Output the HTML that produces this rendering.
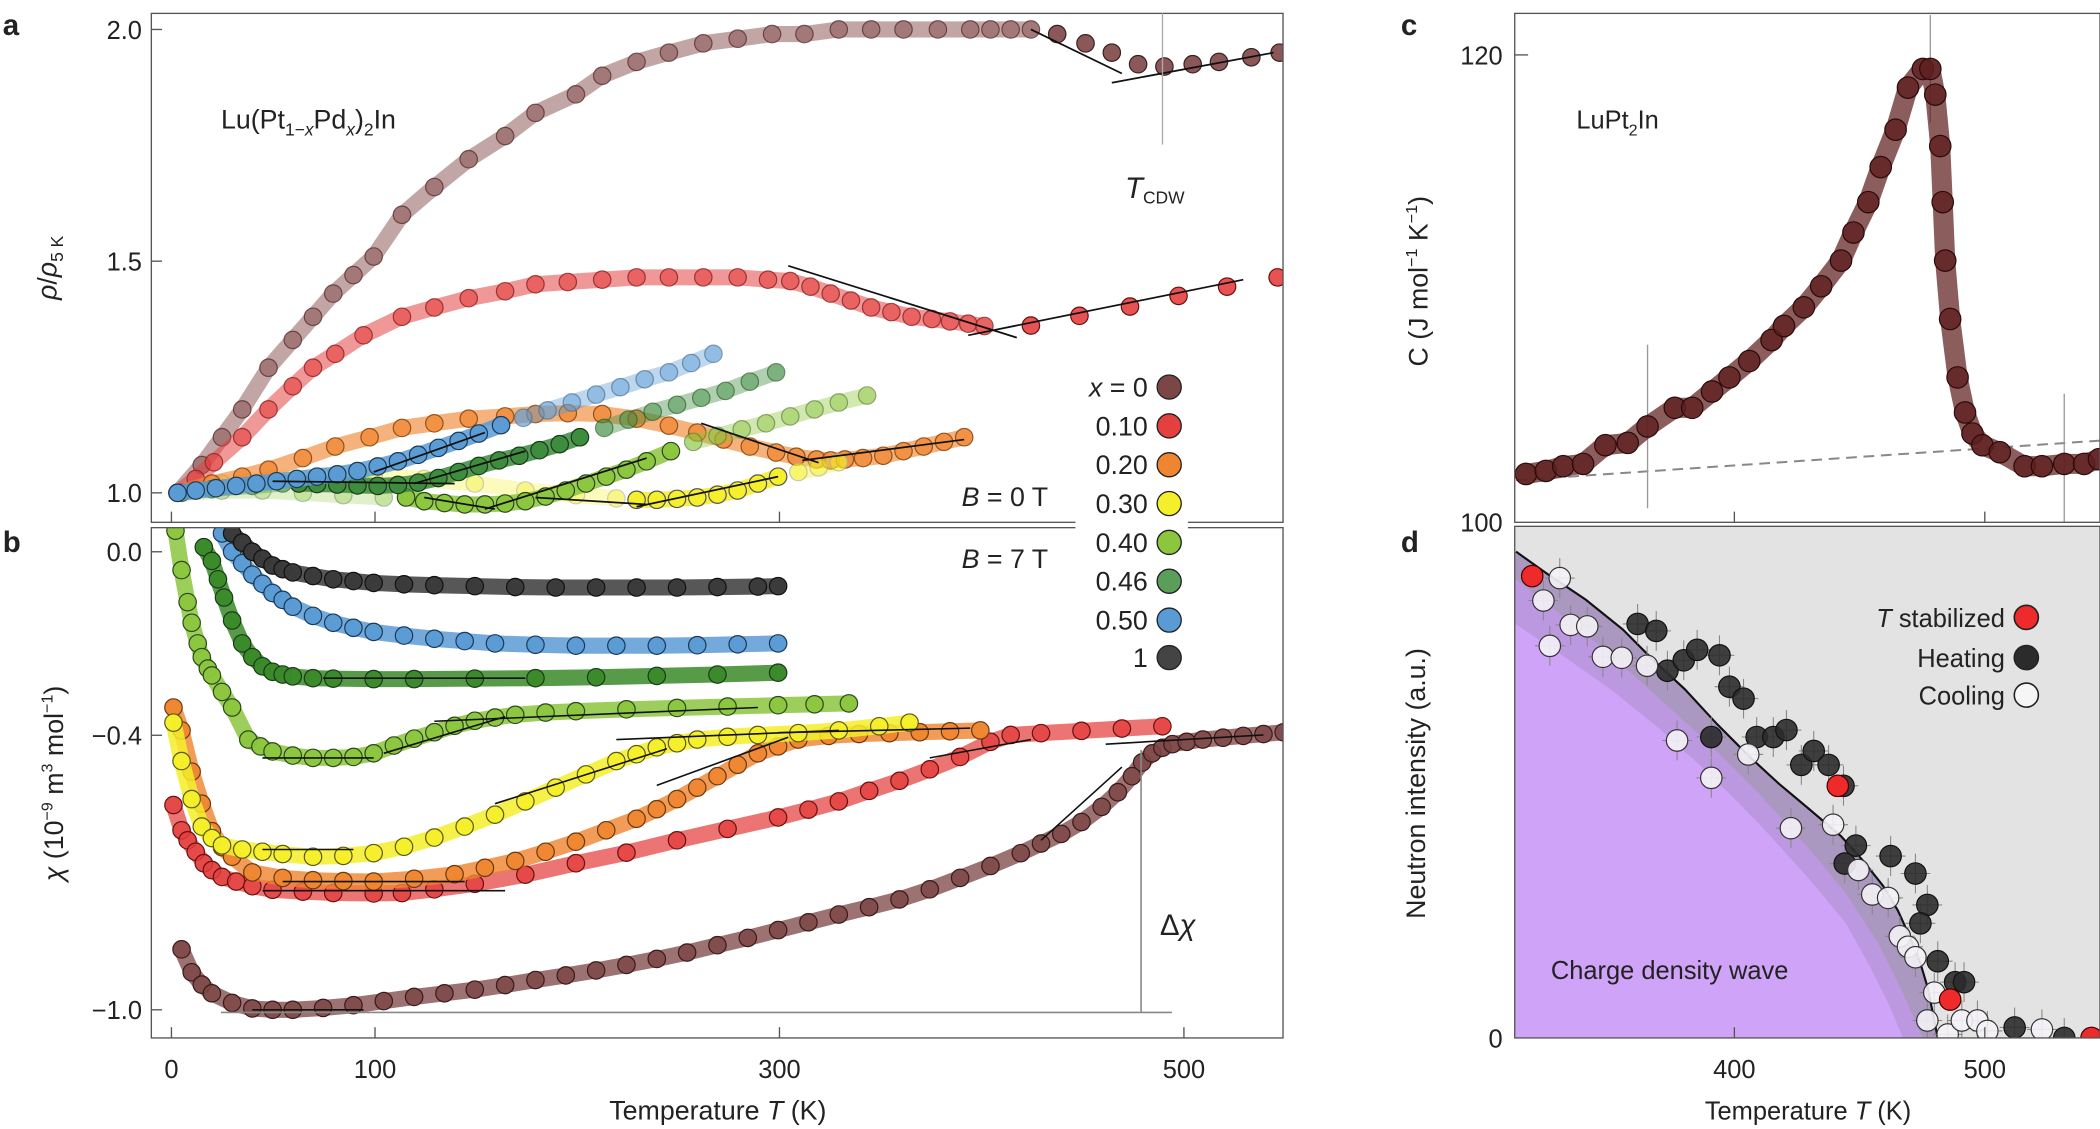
<!DOCTYPE html>
<html><head><meta charset="utf-8"><style>
html,body{margin:0;padding:0;background:#fff;}
svg{display:block;}
text{font-family:"Liberation Sans Narrow","Liberation Sans",sans-serif;fill:#222;}
</style></head><body>
<svg id="fig" width="2100" height="1129" viewBox="0 0 1568 843" xmlns="http://www.w3.org/2000/svg">
<defs><clipPath id="clipA"><rect x="113" y="10" width="845" height="380"/></clipPath>
<clipPath id="clipB"><rect x="113" y="394" width="845" height="381"/></clipPath>
<clipPath id="clipC"><rect x="1131" y="10" width="437" height="380"/></clipPath>
<clipPath id="clipD"><rect x="1131" y="393" width="437" height="382"/></clipPath></defs>
<rect x="1131" y="393" width="437" height="382" fill="#e3e3e3"/>
<g id="dBands" clip-path="url(#clipD)"></g>
<g id="gA" clip-path="url(#clipA)"></g>
<g id="gB" clip-path="url(#clipB)"></g>
<g id="gC" clip-path="url(#clipC)"></g>
<g id="gD" clip-path="url(#clipD)"></g>
<g fill="none" stroke="#555" stroke-width="1">
<rect x="113" y="10" width="845" height="380"/><rect x="113" y="394" width="845" height="381"/>
<rect x="1131" y="10" width="437" height="380"/><rect x="1131" y="393" width="437" height="382"/>
</g>
<g stroke="#555" stroke-width="1">
<line x1="113" y1="22" x2="121" y2="22"/><line x1="113" y1="195" x2="121" y2="195"/><line x1="113" y1="368" x2="121" y2="368"/>
<line x1="113" y1="412" x2="121" y2="412"/><line x1="113" y1="549" x2="121" y2="549"/><line x1="113" y1="754" x2="121" y2="754"/>
<line x1="128" y1="390" x2="128" y2="382"/><line x1="280" y1="390" x2="280" y2="382"/><line x1="582" y1="390" x2="582" y2="382"/>
<line x1="128" y1="775" x2="128" y2="767"/><line x1="280" y1="775" x2="280" y2="767"/><line x1="582" y1="775" x2="582" y2="767"/><line x1="884" y1="775" x2="884" y2="767"/>
<line x1="1131" y1="41" x2="1141" y2="41"/><line x1="1295" y1="390" x2="1295" y2="382"/><line x1="1482" y1="390" x2="1482" y2="382"/>
<line x1="1295" y1="775" x2="1295" y2="767"/><line x1="1482" y1="775" x2="1482" y2="767"/>
</g>
<g font-size="19">
<text x="106" y="29" text-anchor="end">2.0</text><text x="106" y="202" text-anchor="end">1.5</text><text x="106" y="375" text-anchor="end">1.0</text>
<text x="106" y="419" text-anchor="end">0.0</text><text x="106" y="556" text-anchor="end">−0.4</text><text x="106" y="761" text-anchor="end">−1.0</text>
<text x="128" y="805" text-anchor="middle">0</text><text x="280" y="805" text-anchor="middle">100</text><text x="582" y="805" text-anchor="middle">300</text><text x="884" y="805" text-anchor="middle">500</text>
<text x="1122" y="48" text-anchor="end" style="font-family:'Liberation Sans',sans-serif">120</text>
<text x="1122" y="397" text-anchor="end" style="font-family:'Liberation Sans',sans-serif">100</text>
<text x="1122" y="782" text-anchor="end" style="font-family:'Liberation Sans',sans-serif">0</text>
<text x="1295" y="805" text-anchor="middle" style="font-family:'Liberation Sans',sans-serif">400</text>
<text x="1482" y="805" text-anchor="middle" style="font-family:'Liberation Sans',sans-serif">500</text>
</g>
<g font-size="20">
<text x="536" y="836" text-anchor="middle">Temperature <tspan font-style="italic">T</tspan> (K)</text>
<text x="1350" y="836" text-anchor="middle" style="font-family:'Liberation Sans',sans-serif" font-size="19">Temperature <tspan font-style="italic">T</tspan> (K)</text>
<text transform="translate(42,200) rotate(-90)" text-anchor="middle"><tspan font-style="italic">ρ</tspan>/<tspan font-style="italic">ρ</tspan><tspan font-size="13" dy="5">5 K</tspan></text>
<text transform="translate(47,585) rotate(-90)" text-anchor="middle"><tspan font-style="italic">χ</tspan> (10<tspan font-size="12" dy="-8">−9</tspan><tspan dy="8"> m</tspan><tspan font-size="12" dy="-8">3</tspan><tspan dy="8"> mol</tspan><tspan font-size="12" dy="-8">−1</tspan><tspan dy="8">)</tspan></text>
<text transform="translate(1066,210) rotate(-90)" text-anchor="middle">C (J mol<tspan font-size="12" dy="-8">−1</tspan><tspan dy="8"> K</tspan><tspan font-size="12" dy="-8">−1</tspan><tspan dy="8">)</tspan></text>
<text transform="translate(1064,585) rotate(-90)" text-anchor="middle">Neutron intensity (a.u.)</text>
</g>
<g font-size="22" font-weight="bold">
<text x="2" y="26" style="font-family:'Liberation Sans',sans-serif">a</text><text x="2" y="412" style="font-family:'Liberation Sans',sans-serif">b</text>
<text x="1046" y="26" style="font-family:'Liberation Sans',sans-serif">c</text><text x="1046" y="412" style="font-family:'Liberation Sans',sans-serif">d</text>
</g>
<g font-size="20">
<text x="165" y="96">Lu(Pt<tspan font-size="13" dy="5">1−<tspan font-style="italic">x</tspan></tspan><tspan dy="-5">Pd</tspan><tspan font-size="13" dy="5" font-style="italic">x</tspan><tspan dy="-5">)</tspan><tspan font-size="13" dy="5">2</tspan><tspan dy="-5">In</tspan></text>
<line x1="868" y1="10" x2="868" y2="108" stroke="#aaa" stroke-width="1"/>
<text x="840" y="148" font-size="22"><tspan font-style="italic">T</tspan><tspan font-size="13" dy="4">CDW</tspan></text>
<text x="718" y="378" font-size="20"><tspan font-style="italic">B</tspan> = 0 T</text>
<text x="718" y="424" font-size="20"><tspan font-style="italic">B</tspan> = 7 T</text>
<line x1="852" y1="560" x2="852" y2="756" stroke="#888" stroke-width="1.2"/>
<line x1="165" y1="756" x2="875" y2="756" stroke="#888" stroke-width="1.2"/>
<text x="866" y="698" font-size="22">Δ<tspan font-style="italic">χ</tspan></text>
<text x="1177" y="96" style="font-family:'Liberation Sans',sans-serif" font-size="19">LuPt<tspan font-size="12" dy="5">2</tspan><tspan dy="-5">In</tspan></text>
<text x="1158" y="731" style="font-family:'Liberation Sans',sans-serif" font-size="19">Charge density wave</text>
</g>
<g id="legendAB"></g>
<g id="legendD"></g>
</svg>
<script>
// ---------- Panel a data (T in K, rho/rho5K) ----------
const aT0 = [3,15,25,35,48,60,70,80,90,100,114,130,147,165,180,200,213,230,246,263,280,297,313,330,346,362,379,395,405,415,425];
const aV0 = [1.0,1.06,1.12,1.18,1.27,1.33,1.38,1.43,1.47,1.51,1.60,1.66,1.72,1.77,1.82,1.86,1.90,1.93,1.95,1.97,1.98,1.99,1.99,2.0,2.0,2.0,2.0,2.0,2.0,2.0,2.0];
const aT0s = [438,452,465,478,491,505,518,534,548];
const aV0s = [1.99,1.97,1.95,1.925,1.92,1.925,1.93,1.94,1.95];
const aT10 = [3,12,21,35,48,60,70,81,95,114,130,147,165,180,196,213,230,246,263,280,295,306,316,326,336,346,356,366,376,385,394,402];
const aV10 = [1.0,1.03,1.066,1.12,1.18,1.23,1.27,1.30,1.34,1.38,1.40,1.42,1.435,1.45,1.455,1.46,1.465,1.465,1.465,1.465,1.46,1.457,1.445,1.43,1.415,1.40,1.39,1.38,1.375,1.37,1.365,1.36];
const aT10s = [425,449,474,498,522,547];
const aV10s = [1.361,1.382,1.402,1.425,1.445,1.465];
const aT20 = [3,20,35,48,65,81,98,114,130,147,165,180,196,213,230,246,260,273,286,299,309,319,326,333,342,352,362,372,382,392];
const aV20 = [1.0,1.02,1.035,1.05,1.075,1.10,1.12,1.14,1.15,1.16,1.165,1.17,1.172,1.17,1.16,1.145,1.13,1.115,1.10,1.087,1.078,1.072,1.07,1.072,1.075,1.08,1.09,1.10,1.11,1.12];
const aT30f = [5,25,50,75,100,125,150,175,200,220];
const aV30f = [1.0,1.02,1.03,1.035,1.035,1.03,1.02,1.005,0.995,0.988];
const aT30 = [230,240,250,260,270,280,290,300];
const aV30 = [0.985,0.985,0.987,0.99,0.996,1.005,1.02,1.035];
const aT30g = [310,320,330];
const aV30g = [1.045,1.055,1.066];
const aT40f = [5,25,45,65,85,105];
const aV40f = [1.0,1.005,1.005,1.0,0.995,0.99];
const aT40 = [116,125,135,145,155,165,175,185,195,205,215,225,235,247];
const aV40 = [0.99,0.982,0.978,0.975,0.975,0.977,0.982,0.992,1.005,1.02,1.035,1.05,1.068,1.09];
const aT40g = [258,270,282,294,306,318,330,344];
const aV40g = [1.11,1.123,1.137,1.15,1.165,1.18,1.195,1.21];
const aT46f = [5,20,40,55];
const aV46f = [1.0,1.008,1.015,1.02];
const aT46 = [63,72,82,92,102,112,122,132,142,152,162,172,182,192,202];
const aV46 = [1.02,1.019,1.018,1.016,1.015,1.017,1.022,1.032,1.045,1.058,1.07,1.08,1.092,1.105,1.12];
const aT46g = [214,226,238,250,262,274,286,299];
const aV46g = [1.14,1.158,1.175,1.19,1.205,1.22,1.24,1.26];
const aT50 = [3,12,22,32,42,52,62,72,82,92,102,112,122,132,142,152,163];
const aV50 = [1.0,1.005,1.01,1.015,1.02,1.025,1.03,1.035,1.04,1.047,1.057,1.068,1.082,1.097,1.112,1.128,1.146];
const aT50g = [174,186,198,210,222,234,246,257,268];
const aV50g = [1.162,1.178,1.195,1.212,1.228,1.245,1.26,1.28,1.30];
// ---------- Panel b data (T in K, chi) ----------
const bT1 = [30,35,40,45,50,55,60,70,80,90,100,115,130,150,170,190,210,230,250,270,290,300];
const bV1 = [0.04,0.02,0.0,-0.015,-0.03,-0.038,-0.045,-0.053,-0.06,-0.064,-0.068,-0.071,-0.073,-0.075,-0.077,-0.078,-0.078,-0.078,-0.078,-0.077,-0.076,-0.075];
const bT50 = [25,30,35,40,45,50,55,60,70,80,90,100,115,130,145,160,180,200,220,240,260,280,300];
const bV50 = [0.04,0.0,-0.025,-0.05,-0.07,-0.09,-0.105,-0.12,-0.14,-0.155,-0.166,-0.175,-0.183,-0.19,-0.195,-0.2,-0.203,-0.205,-0.205,-0.205,-0.204,-0.202,-0.2];
const bT46 = [16,20,23,26,30,35,40,45,50,55,60,70,80,100,120,150,180,210,240,270,300];
const bV46 = [0.01,-0.02,-0.06,-0.1,-0.15,-0.2,-0.23,-0.25,-0.262,-0.268,-0.272,-0.276,-0.277,-0.278,-0.278,-0.277,-0.276,-0.274,-0.271,-0.268,-0.264];
const bT40 = [2,5,8,10,13,15,18,20,25,30,38,44,50,60,70,80,90,100,110,120,130,140,150,160,170,185,200,225,250,275,300,318,335];
const bV40 = [0.046,-0.04,-0.11,-0.155,-0.2,-0.23,-0.255,-0.27,-0.306,-0.34,-0.41,-0.425,-0.436,-0.445,-0.45,-0.45,-0.448,-0.44,-0.423,-0.408,-0.394,-0.38,-0.369,-0.362,-0.356,-0.351,-0.348,-0.344,-0.341,-0.338,-0.335,-0.333,-0.331];
const bT30 = [1,5,10,15,20,25,35,45,55,70,85,100,115,130,145,160,175,190,205,220,230,240,250,260,275,290,310,330,350,365];
const bV30 = [-0.373,-0.457,-0.54,-0.6,-0.625,-0.641,-0.65,-0.655,-0.66,-0.666,-0.664,-0.658,-0.644,-0.624,-0.6,-0.574,-0.545,-0.515,-0.486,-0.457,-0.442,-0.427,-0.418,-0.41,-0.404,-0.4,-0.396,-0.39,-0.381,-0.373];
const bT20 = [1,5,10,15,20,25,30,40,55,70,85,100,120,140,155,170,185,200,215,230,240,250,260,270,280,290,300,310,325,340,355,370,385,400];
const bV20 = [-0.34,-0.39,-0.48,-0.55,-0.61,-0.645,-0.666,-0.7,-0.712,-0.717,-0.719,-0.72,-0.714,-0.704,-0.69,-0.675,-0.655,-0.633,-0.608,-0.583,-0.562,-0.54,-0.515,-0.49,-0.465,-0.44,-0.425,-0.41,-0.402,-0.398,-0.396,-0.394,-0.392,-0.39];
const bT10 = [1,5,8,12,16,20,25,32,40,50,65,80,100,114,130,150,175,200,225,250,275,300,315,330,345,360,375,390,405,415,430,450,470,490];
const bV10 = [-0.553,-0.608,-0.63,-0.655,-0.68,-0.695,-0.71,-0.72,-0.73,-0.738,-0.742,-0.745,-0.746,-0.745,-0.737,-0.725,-0.705,-0.68,-0.657,-0.63,-0.605,-0.58,-0.563,-0.545,-0.522,-0.5,-0.475,-0.448,-0.415,-0.4,-0.396,-0.391,-0.386,-0.381];
const bT0 = [5,10,15,20,30,40,50,60,75,90,105,120,135,150,165,180,195,210,225,240,255,270,285,300,315,330,345,360,375,390,405,420,430,440,450,460,468,475,480,485,490,495,502,510,520,530,540,550];
const bV0 = [-0.868,-0.918,-0.945,-0.964,-0.985,-0.997,-1.0,-1.0,-0.996,-0.99,-0.981,-0.972,-0.964,-0.956,-0.946,-0.935,-0.925,-0.914,-0.902,-0.889,-0.875,-0.859,-0.843,-0.826,-0.809,-0.792,-0.776,-0.759,-0.737,-0.712,-0.686,-0.658,-0.637,-0.616,-0.59,-0.557,-0.525,-0.49,-0.46,-0.44,-0.428,-0.42,-0.415,-0.41,-0.406,-0.402,-0.398,-0.394];
// ---------- Panel c data (T in K, C) ----------
const cT = [316,324,331,339,348,357,365,376,383,391,398,406,415,420,428,435,443,448,454,459,465,470,476,479,481,483,484,485,487,490,493,496,500,507,517,524,533,541,547];
const cV = [102.07,102.2,102.4,102.5,103.3,103.4,104.1,104.9,104.9,105.6,106.2,106.9,107.8,108.4,109.2,110.1,111.2,112.4,113.7,115.2,116.8,118.6,119.4,119.4,118.3,116.1,113.7,111.2,108.7,106.2,104.7,103.8,103.3,103.0,102.4,102.4,102.5,102.5,102.7];
const cBaseT = [312,548];
const cBaseV = [101.8,103.5];
// ---------- Panel d data (T in K, intensity) ----------
const dHeatT = [361,368.5,373,379.6,385,394,398,403.7,409,415.7,421,427,432,438,444,449,444.5,463,473,477.8,475,482,489,492.6,513,533,390.7];
const dHeatV = [83.1,81.7,73.7,75.8,77.9,76.8,70.5,68.1,60.4,60.4,61.8,54.8,57.6,54.8,50.6,38.6,35,36.5,33,26.7,23,15.4,11.2,11.2,2.1,0,60.4];
const dCoolT = [329.6,323,325.6,334,340.7,347,354.6,364.8,376.9,390.7,405.6,422.8,439.8,450,455.6,462,466.7,470,473,480.6,477.8,486,491.7,498,502,524];
const dCoolV = [92.3,87.8,78.7,82.9,82.6,76.5,76.3,74.7,59.7,52.2,56.9,42.1,42.8,33.7,28.8,28.1,20.4,18.3,16.2,9.1,3.5,0.7,3.5,3.5,1.4,1.7];
const dStabT = [318.5,441.7,487,544];
const dStabV = [92.7,50.6,7.7,0];
const dFitT = [312,325,340,355,367,380,393,406,418,430,443,452,460,466,471,475,478,480,482];
const dFitV = [97.6,93,88,82,76,70,63,56.5,51,46,40.5,35.5,30.5,25.5,20,15,10,5,0];
const dBand2T = [312,330,350,370,390,410,430,445,458,467,476];
const dBand2V = [92,85,77,68,59,49,38,29,19,10,0];
const dBand3T = [312,330,350,370,390,410,430,445,455,462,468];
const dBand3V = [83,77,70,62,53,43,32,23,14,7,0];

function ax(T){return 128+T*1.51;}  function ay(v){return 368-(v-1)*346;}
function bx(T){return 128+T*1.51;}  function by(v){return 412-v*342;}
function cx(T){return 1295+(T-400)*1.852;} function cy(v){return 390-(v-100)*17.45;}
function dx(T){return 1295+(T-400)*1.852;} function dy(v){return 775-v*3.72;}
const NS='http://www.w3.org/2000/svg';
function mk(tag,parent){const e=document.createElementNS(NS,tag);parent.appendChild(e);return e;}

function band(g,Ts,Vs,fx,fy,color,op,w){
  const p=mk('polyline',g);
  
  
  p.setAttribute('points',Ts.map((t,i)=>fx(t)+','+fy(Vs[i])).join(' '));
  p.setAttribute('fill','none');p.setAttribute('stroke',color);p.setAttribute('stroke-opacity',op);
  p.setAttribute('stroke-width',w);p.setAttribute('stroke-linecap','round');p.setAttribute('stroke-linejoin','round');
}
function dots(g,Ts,Vs,fx,fy,fill,stroke,op,r,name){
  for(let i=0;i<Ts.length;i++){
    const c=mk('circle',g);
    
    
    c.setAttribute('cx',fx(Ts[i]));c.setAttribute('cy',fy(Vs[i]));c.setAttribute('r',r);
    c.setAttribute('fill',fill);c.setAttribute('fill-opacity',op);
    c.setAttribute('stroke',stroke);c.setAttribute('stroke-opacity',Math.min(1,op+0.2));c.setAttribute('stroke-width',0.9);
  }
}
function series(g,Ts,Vs,fx,fy,fill,stroke,op,r,name){band(g,Ts,Vs,fx,fy,fill,op*0.9,2*r-1);dots(g,Ts,Vs,fx,fy,fill,stroke,op,r,name);}
function line(g,x1,y1,x2,y2,col,w,dash){const l=mk('line',g);
  
  
  l.setAttribute('x1',x1);l.setAttribute('y1',y1);l.setAttribute('x2',x2);l.setAttribute('y2',y2);l.setAttribute('stroke',col);l.setAttribute('stroke-width',w);if(dash)l.setAttribute('stroke-dasharray',dash);}

const col={x0:'#7d4646',x10:'#e4403f',x20:'#ef8530',x30:'#f4ef2a',x40:'#8cc63f',x46:'#3d8b3d',x50:'#5b9bd5',x1:'#3a3a3a'};
const R=6.5;
const gA=document.getElementById('gA');
series(gA,aT30f,aV30f,ax,ay,col.x30,'#aa9',0.35,R,'series-x030-faded');
series(gA,aT40f,aV40f,ax,ay,col.x40,'#686',0.3,R,'series-x040-faded');
series(gA,aT0,aV0,ax,ay,'#8e5a5a','#5a3030',0.6,R,'series-x0');
dots(gA,aT0s,aV0s,ax,ay,'#7d4646','#3a2020',0.9,R,'series-x0-sparse');
series(gA,aT10,aV10,ax,ay,col.x10,'#8a2020',0.6,R,'series-x010');
dots(gA,aT10s,aV10s,ax,ay,col.x10,'#6a1010',0.9,R,'series-x010-sparse');
series(gA,aT20,aV20,ax,ay,col.x20,'#8a4a10',0.7,R,'series-x020');
series(gA,aT50g,aV50g,ax,ay,col.x50,'#4a6a8a',0.45,R,'series-x050-faded');
series(gA,aT46g,aV46g,ax,ay,col.x46,'#2a5a2a',0.45,R,'series-x046-faded');
series(gA,aT40g,aV40g,ax,ay,col.x40,'#5a7a3a',0.45,R,'series-x040-faded');
series(gA,aT30g,aV30g,ax,ay,col.x30,'#aa9',0.45,R,'series-x030-faded');
series(gA,aT46f,aV46f,ax,ay,col.x46,'#2a5a2a',0.4,R,'series-x046-faded');
series(gA,aT30,aV30,ax,ay,col.x30,'#555',0.95,R,'series-x030');
series(gA,aT40,aV40,ax,ay,col.x40,'#2a4a1a',0.95,R,'series-x040');
series(gA,aT46,aV46,ax,ay,col.x46,'#1a3a1a',0.95,R,'series-x046');
series(gA,aT50,aV50,ax,ay,col.x50,'#1a3a5a',0.95,R,'series-x050');
[[425,2.0,470,1.905],[465,1.885,545,1.95],[305,1.49,418,1.335],[394,1.34,530,1.46],[262,1.15,320,1.065],[312,1.07,392,1.115],
 [125,0.99,160,0.965],[155,0.965,235,1.075],[180,0.99,235,0.975],[230,0.97,300,1.035],[50,1.025,140,1.02],[120,1.02,175,1.09],[100,1.045,155,1.13]].forEach(s=>line(gA,ax(s[0]),ay(s[1]),ax(s[2]),ay(s[3]),'#111',1.3));
const gB=document.getElementById('gB');
series(gB,bT0,bV0,bx,by,'#7d4646','#3a1a1a',0.85,R,'series-b-x0');
series(gB,bT10,bV10,bx,by,col.x10,'#6a1010',0.8,R,'series-b-x010');
series(gB,bT20,bV20,bx,by,col.x20,'#6a3a10',0.9,R,'series-b-x020');
series(gB,bT30,bV30,bx,by,col.x30,'#5a5a10',0.95,R,'series-b-x030');
series(gB,bT40,bV40,bx,by,col.x40,'#2a4a1a',0.95,R,'series-b-x040');
series(gB,bT46,bV46,bx,by,'#3a8a2a','#1a3a1a',0.95,R,'series-b-x046');
series(gB,bT50,bV50,bx,by,col.x50,'#1a3a5a',0.95,R,'series-b-x050');
series(gB,bT1,bV1,bx,by,col.x1,'#111',0.95,R,'series-b-x1');
[[40,-1.0,95,-1.0],[462,-0.42,540,-0.4],[430,-0.63,470,-0.47],[45,-0.74,165,-0.74],[375,-0.45,425,-0.41],[55,-0.72,145,-0.72],[240,-0.51,305,-0.405],[300,-0.395,395,-0.385],[45,-0.65,90,-0.65],[160,-0.55,245,-0.43],[220,-0.41,330,-0.39],[45,-0.45,100,-0.45],[105,-0.44,165,-0.36],[130,-0.37,290,-0.34],[75,-0.276,175,-0.276]]
 .forEach(s=>line(gB,bx(s[0]),by(s[1]),bx(s[2]),by(s[3]),'#111',1.2));
const gC=document.getElementById('gC');
line(gC,cx(cBaseT[0]),cy(cBaseV[0]),cx(cBaseT[1]),cy(cBaseV[1]),'#888',1.5,'8,5');
[[365,104.1,3.5],[479,119.4,2.3],[533,102.5,3]].forEach(e=>line(gC,cx(e[0]),cy(e[1]-e[2]),cx(e[0]),cy(e[1]+e[2]),'#999',1));
series(gC,cT,cV,cx,cy,'#5e1f1f','#2a0a0a',0.8,8,'heat-capacity-point');
const dB=document.getElementById('dBands');
function area(g,Ts,Vs,fill,name){const p=mk('polygon',g);
  
  
  p.setAttribute('points',dx(300)+','+dy(0)+' '+dx(300)+','+dy(Vs[0])+' '+Ts.map((t,i)=>dx(t)+','+dy(Vs[i])).join(' '));p.setAttribute('fill',fill);}
area(dB,dFitT,dFitV,'#ab98c0','cdw-band-outer');
area(dB,dBand2T,dBand2V,'#bb98e0','cdw-band-middle');
area(dB,dBand3T,dBand3V,'#cfa3f7','cdw-band-inner');
const fit=mk('polyline',dB);


fit.setAttribute('points',dFitT.map((t,i)=>dx(t)+','+dy(dFitV[i])).join(' '));
fit.setAttribute('fill','none');fit.setAttribute('stroke','#111');fit.setAttribute('stroke-width',1.6);
const gD=document.getElementById('gD');
function ebars(Ts,Vs){for(let i=0;i<Ts.length;i++){line(gD,dx(Ts[i]),dy(Vs[i]-4),dx(Ts[i]),dy(Vs[i]+4),'#888',0.8);line(gD,dx(Ts[i]-6),dy(Vs[i]),dx(Ts[i]+6),dy(Vs[i]),'#888',0.8);}}
ebars(dHeatT,dHeatV);ebars(dCoolT,dCoolV);
dots(gD,dHeatT,dHeatV,dx,dy,'#2b2b2b','#111',0.9,8,'heating-point');
dots(gD,dCoolT,dCoolV,dx,dy,'#f4f2f6','#333',0.9,8,'cooling-point');
dots(gD,dStabT,dStabV,dx,dy,'#ee2a2a','#400',1,8,'stabilized-point');
const lAB=document.getElementById('legendAB');
const bg=mk('rect',lAB);


bg.setAttribute('x',803);bg.setAttribute('y',275);bg.setAttribute('width',84);bg.setAttribute('height',228);bg.setAttribute('fill','#fff');
const legLabels=['x = 0','0.10','0.20','0.30','0.40','0.46','0.50','1'];
const legColors=[col.x0,col.x10,col.x20,col.x30,col.x40,'#5a9e5a',col.x50,'#444'];
const legY=[289,318,347,376,405,434,463,491];
for(let i=0;i<legLabels.length;i++){
  const t=mk('text',lAB);
  
  
  t.setAttribute('x',857);t.setAttribute('y',legY[i]+7);t.setAttribute('text-anchor','end');t.setAttribute('font-size','20');
  t.textContent=legLabels[i];
  if(i===0){t.innerHTML='<tspan font-style="italic">x</tspan> = 0';}
  const c=mk('circle',lAB);
  
  
  c.setAttribute('cx',873);c.setAttribute('cy',legY[i]);c.setAttribute('r',9);c.setAttribute('fill',legColors[i]);c.setAttribute('stroke','#222');c.setAttribute('stroke-width',1);
}
const lD=document.getElementById('legendD');
const dLab=['<tspan font-style="italic">T</tspan> stabilized','Heating','Cooling'];
const dCol=['#ee2a2a','#2b2b2b','#f6f6f6'];
const dLy=[461,491,519];
for(let i=0;i<3;i++){
  const t=mk('text',lD);
  
  
  t.setAttribute('x',1497);t.setAttribute('y',dLy[i]+7);t.setAttribute('text-anchor','end');t.setAttribute('font-size','19');
  t.setAttribute('style',"font-family:'Liberation Sans',sans-serif");
  t.innerHTML=dLab[i];
  const c=mk('circle',lD);
  
  
  c.setAttribute('cx',1513);c.setAttribute('cy',dLy[i]);c.setAttribute('r',9);c.setAttribute('fill',dCol[i]);c.setAttribute('stroke','#222');c.setAttribute('stroke-width',1.2);
}
</script>
</body></html>
